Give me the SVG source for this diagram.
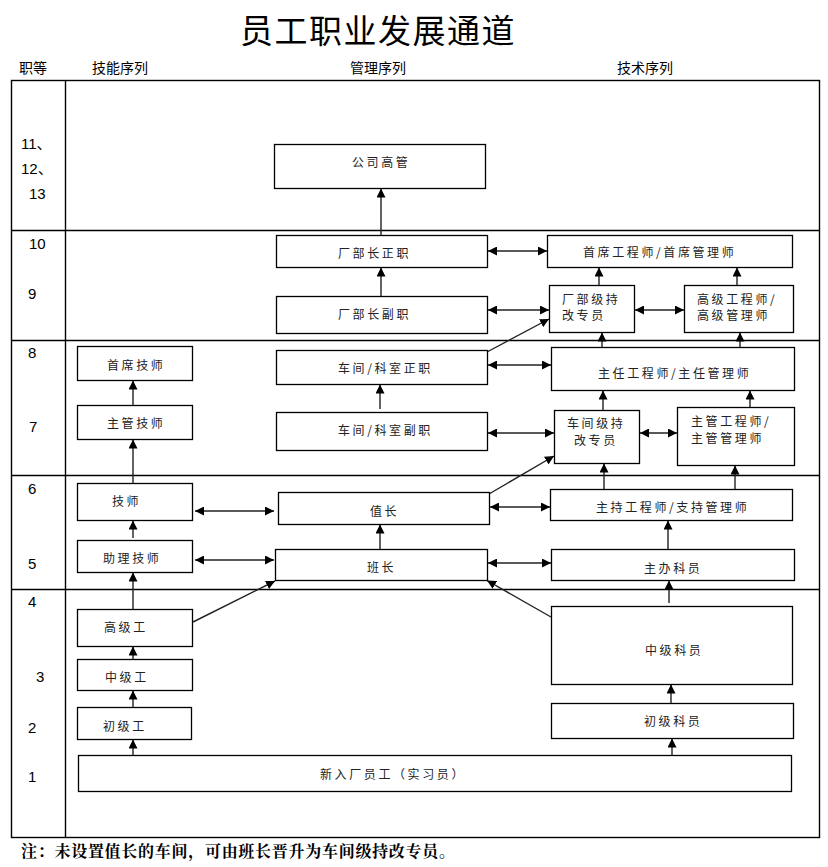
<svg xmlns="http://www.w3.org/2000/svg" width="828" height="867" viewBox="0 0 828 867">
<defs>
<style>
.frame{fill:none;stroke:#000;stroke-width:1.4}
.box rect{fill:#fff;stroke:#000;stroke-width:1.3}
.box text{font-family:"Noto Sans CJK SC","Noto Sans",sans-serif;font-size:12px;letter-spacing:2.6px;fill:#222}
.hdr{font-family:"Noto Sans CJK SC",sans-serif;font-size:14px;fill:#000}
.num{font-family:"Liberation Sans","Noto Sans CJK SC",sans-serif;font-size:15px;fill:#000}
.c line{stroke:#222;stroke-width:1.4;fill:none}
.one{marker-end:url(#ah)}
.two{marker-start:url(#ah);marker-end:url(#ah)}
</style>
<marker id="ah" viewBox="0 0 10 10" refX="10" refY="5" markerWidth="9" markerHeight="9" markerUnits="userSpaceOnUse" orient="auto-start-reverse">
<path d="M0,0 L10,5 L0,10 z" fill="#000"/>
</marker>
</defs>
<rect width="828" height="867" fill="#fff"/>
<text x="240" y="43" font-family="Noto Sans CJK SC,sans-serif" font-size="33" letter-spacing="1.5" fill="#000">员工职业发展通道</text>
<text class="hdr" x="19" y="73">职等</text>
<text class="hdr" x="92" y="73">技能序列</text>
<text class="hdr" x="350" y="73">管理序列</text>
<text class="hdr" x="617" y="73">技术序列</text>
<g id="grid">
<rect class="frame" x="11.5" y="80.5" width="808" height="757"/>
<line class="frame" x1="65.5" y1="80" x2="65.5" y2="838"/>
<line class="frame" x1="11" y1="230.5" x2="820" y2="230.5"/>
<line class="frame" x1="11" y1="340.5" x2="820" y2="340.5"/>
<line class="frame" x1="11" y1="475.5" x2="820" y2="475.5"/>
<line class="frame" x1="11" y1="589.5" x2="820" y2="589.5"/>
</g>
<g id="grades">
<text class="num" x="21" y="149">11、</text>
<text class="num" x="21" y="174">12、</text>
<text class="num" x="29" y="199">13</text>
<text class="num" x="29" y="249">10</text>
<text class="num" x="28" y="299">9</text>
<text class="num" x="28" y="358">8</text>
<text class="num" x="29" y="432">7</text>
<text class="num" x="28" y="494">6</text>
<text class="num" x="28" y="569">5</text>
<text class="num" x="28" y="607">4</text>
<text class="num" x="36" y="682">3</text>
<text class="num" x="28" y="733">2</text>
<text class="num" x="28" y="782">1</text>
</g>
<g id="connectors" class="c">
<line class="one" x1="381" y1="235" x2="381" y2="188.5"/>
<line class="one" x1="381" y1="296" x2="381" y2="267.5"/>
<line class="one" x1="599" y1="285" x2="599" y2="267.5"/>
<line class="one" x1="737" y1="285" x2="737" y2="267.5"/>
<line class="one" x1="602" y1="347" x2="602" y2="332.5"/>
<line class="one" x1="740" y1="347" x2="740" y2="332.5"/>
<line class="one" x1="603" y1="410" x2="603" y2="390.5"/>
<line class="one" x1="750" y1="407" x2="750" y2="390.5"/>
<line class="one" x1="380" y1="409" x2="380" y2="384.5"/>
<line class="one" x1="133" y1="405" x2="133" y2="380.5"/>
<line class="one" x1="133" y1="483" x2="133" y2="439.5"/>
<line class="one" x1="133" y1="538" x2="133" y2="520.5"/>
<line class="one" x1="133" y1="609" x2="133" y2="572.5"/>
<line class="one" x1="133" y1="659" x2="133" y2="646.5"/>
<line class="one" x1="133" y1="707" x2="133" y2="690.5"/>
<line class="one" x1="133" y1="757" x2="133" y2="739.5"/>
<line class="one" x1="380" y1="549" x2="380" y2="524.5"/>
<line class="one" x1="668" y1="549" x2="668" y2="520.5"/>
<line class="one" x1="669" y1="603" x2="669" y2="580.5"/>
<line class="one" x1="671" y1="703" x2="671" y2="684.5"/>
<line class="one" x1="604" y1="489" x2="604" y2="463.5"/>
<line class="one" x1="735" y1="489" x2="735" y2="465.5"/>
<line class="one" x1="672" y1="755" x2="672" y2="738.5"/>
<line class="two" x1="488" y1="251" x2="547" y2="251"/>
<line class="two" x1="488" y1="310" x2="549" y2="310"/>
<line class="two" x1="635" y1="310" x2="684" y2="310"/>
<line class="two" x1="488" y1="365" x2="551" y2="365"/>
<line class="two" x1="488" y1="433" x2="554" y2="433"/>
<line class="two" x1="640" y1="433" x2="677" y2="433"/>
<line class="two" x1="195" y1="511" x2="274" y2="511"/>
<line class="two" x1="195" y1="560" x2="274" y2="560"/>
<line class="two" x1="490" y1="507" x2="550" y2="507"/>
<line class="two" x1="488" y1="563" x2="551" y2="563"/>
<line class="one" x1="487" y1="352" x2="549" y2="319"/>
<line class="one" x1="489" y1="494" x2="554" y2="456"/>
<line class="one" x1="193" y1="622" x2="275" y2="581"/>
<line class="one" x1="551" y1="617" x2="487" y2="580.5"/>
</g>
<g id="n_gsgg" class="box"><rect x="274.5" y="144.5" width="211" height="44"/><text x="352" y="167">公司高管</text></g>
<g id="n_cbzz" class="box"><rect x="276.5" y="235.5" width="211" height="32"/><text x="338" y="258">厂部长正职</text></g>
<g id="n_cbfz" class="box"><rect x="276.5" y="296.5" width="211" height="37"/><text x="338" y="319">厂部长副职</text></g>
<g id="n_sxgcs" class="box"><rect x="547.5" y="235.5" width="245" height="32"/><text x="583" y="257">首席工程师/首席管理师</text></g>
<g id="n_cbjcg" class="box"><rect x="549.5" y="285.5" width="85" height="47"/><text x="562" y="304">厂部级持</text><text x="562" y="320">改专员</text></g>
<g id="n_gjgcs" class="box"><rect x="684.5" y="285.5" width="109" height="47"/><text x="697" y="304">高级工程师/</text><text x="697" y="320">高级管理师</text></g>
<g id="n_sxjs" class="box"><rect x="77.5" y="346.5" width="115" height="34"/><text x="107" y="370">首席技师</text></g>
<g id="n_zgjs" class="box"><rect x="77.5" y="405.5" width="115" height="34"/><text x="107" y="428">主管技师</text></g>
<g id="n_cjzz" class="box"><rect x="276.5" y="350.5" width="211" height="34"/><text x="338" y="373">车间/科室正职</text></g>
<g id="n_cjfz" class="box"><rect x="276.5" y="412.5" width="211" height="38"/><text x="338" y="435">车间/科室副职</text></g>
<g id="n_zrgcs" class="box"><rect x="551.5" y="347.5" width="243" height="43"/><text x="598" y="378">主任工程师/主任管理师</text></g>
<g id="n_cjjcg" class="box"><rect x="554.5" y="410.5" width="85" height="53"/><text x="567" y="428">车间级持</text><text x="574" y="445">改专员</text></g>
<g id="n_zggcs" class="box"><rect x="677.5" y="407.5" width="117" height="58"/><text x="691" y="426" letter-spacing="4.5">主管工程师/</text><text x="691" y="443">主管管理师</text></g>
<g id="n_js" class="box"><rect x="77.5" y="483.5" width="115" height="37"/><text x="112" y="506">技师</text></g>
<g id="n_zljs" class="box"><rect x="77.5" y="540.5" width="115" height="32"/><text x="103" y="563">助理技师</text></g>
<g id="n_zc" class="box"><rect x="278.5" y="492.5" width="211" height="32"/><text x="370" y="516">值长</text></g>
<g id="n_bz" class="box"><rect x="275.5" y="549.5" width="212" height="31"/><text x="367" y="572">班长</text></g>
<g id="n_zcgcs" class="box"><rect x="550.5" y="489.5" width="242" height="31"/><text x="596" y="512">主持工程师/支持管理师</text></g>
<g id="n_zbky" class="box"><rect x="551.5" y="549.5" width="243" height="31"/><text x="644" y="573">主办科员</text></g>
<g id="n_gjg" class="box"><rect x="77.5" y="609.5" width="115" height="37"/><text x="104" y="632">高级工</text></g>
<g id="n_zjg" class="box"><rect x="77.5" y="659.5" width="115" height="31"/><text x="105" y="682">中级工</text></g>
<g id="n_zjky" class="box"><rect x="551.5" y="606.5" width="241" height="78"/><text x="645" y="655">中级科员</text></g>
<g id="n_cjg" class="box"><rect x="77.5" y="707.5" width="114" height="32"/><text x="103" y="731">初级工</text></g>
<g id="n_cjky" class="box"><rect x="551.5" y="703.5" width="242" height="35"/><text x="644" y="726">初级科员</text></g>
<g id="n_xr" class="box"><rect x="78.5" y="755.5" width="713" height="36"/><text x="320" y="779" letter-spacing="1.8">新入厂员工（实习员）</text></g>
<text x="21" y="857" font-family="Noto Serif CJK SC,Noto Sans CJK SC,serif" font-size="16" font-weight="bold" textLength="434" fill="#000">注：未设置值长的车间，可由班长晋升为车间级持改专员。</text>
</svg>
